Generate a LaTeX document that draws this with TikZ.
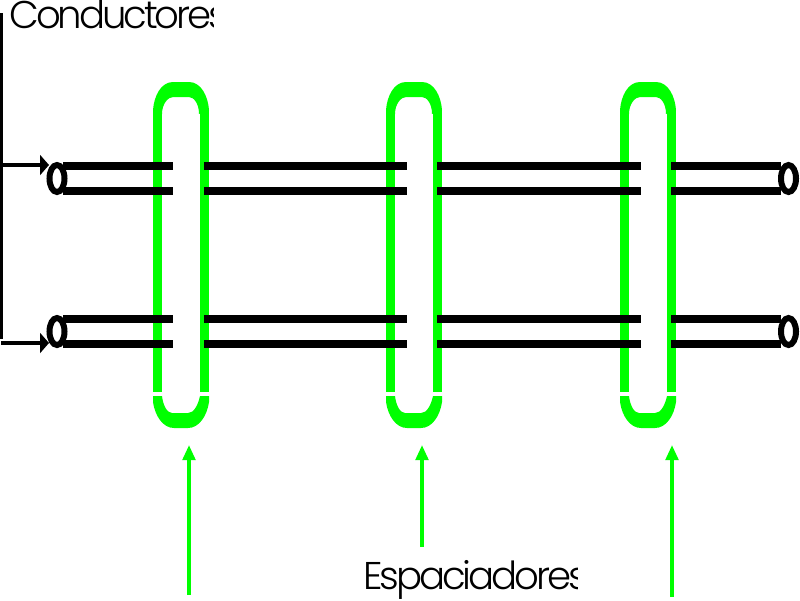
\documentclass[tikz,border=0pt]{standalone}
\usepackage{fontspec}
\setmainfont[LetterSpace=-8]{Poppins Light}
\usetikzlibrary{arrows.meta,shapes.geometric}
\definecolor{espgreen}{RGB}{0,255,0}
\tikzset{
	conductor/.style={black,line width=0.16cm},
	spacerside/.style={espgreen,line width=0.18cm},
	spacercap/.style={fill=espgreen,even odd rule},
	wirering/.style={draw=black,ellipse,line width=0.12cm,inner sep=0pt,minimum width=0.3cm,minimum height=0.54cm},
	blackarrow/.style={black,line width=0.07cm,-{Triangle[length=0.18cm,width=0.4cm]}},
	greenarrow/.style={espgreen,line width=0.07cm,-{Triangle[length=0.3cm,width=0.25cm]}},
	labeltext/.style={black,inner sep=0pt,anchor=base west,font=\fontsize{22}{26}\selectfont}
}
\begin{document}
\begin{tikzpicture}[x=0.02cm,y=-0.02cm]
	\useasboundingbox (0,0) rectangle (800,600);
	% spacers
	\draw[spacerside](157.5,108)--(157.5,392);
	\draw[spacerside](204,108)--(204,392);
	\fill[spacercap](153,110) .. controls (154,96) and (161,82) .. (173,82) -- (189,82) .. controls (201,82) and (208,96) .. (209,110) -- (199,114) .. controls (199,104) and (194,97) .. (189,97) -- (173,97) .. controls (168,97) and (162,104) .. (162,114) -- cycle;
	\fill[spacercap](153,396) -- (153,402) .. controls (155,416) and (163,428) .. (174,428) -- (188,428) .. controls (199,428) and (207,416) .. (209,402) -- (209,396) -- (200,396) .. controls (198,405) and (194,413) .. (188,413) -- (172,413) .. controls (167,413) and (163,405) .. (162,396) -- cycle;
	\draw[spacerside](390.5,108)--(390.5,392);
	\draw[spacerside](437,108)--(437,392);
	\fill[spacercap](386,110) .. controls (387,96) and (394,82) .. (406,82) -- (422,82) .. controls (434,82) and (441,96) .. (442,110) -- (432,114) .. controls (432,104) and (427,97) .. (422,97) -- (406,97) .. controls (401,97) and (395,104) .. (395,114) -- cycle;
	\fill[spacercap](386,396) -- (386,402) .. controls (388,416) and (396,428) .. (407,428) -- (421,428) .. controls (432,428) and (440,416) .. (442,402) -- (442,396) -- (433,396) .. controls (431,405) and (427,413) .. (421,413) -- (405,413) .. controls (400,413) and (396,405) .. (395,396) -- cycle;
	\draw[spacerside](624.5,108)--(624.5,392);
	\draw[spacerside](671,108)--(671,392);
	\fill[spacercap](620,110) .. controls (621,96) and (628,82) .. (640,82) -- (656,82) .. controls (668,82) and (675,96) .. (676,110) -- (666,114) .. controls (666,104) and (661,97) .. (656,97) -- (640,97) .. controls (635,97) and (629,104) .. (629,114) -- cycle;
	\fill[spacercap](620,396) -- (620,402) .. controls (622,416) and (630,428) .. (641,428) -- (655,428) .. controls (666,428) and (674,416) .. (676,402) -- (676,396) -- (667,396) .. controls (665,405) and (661,413) .. (655,413) -- (639,413) .. controls (634,413) and (630,405) .. (629,396) -- cycle;
	% conductors
	\draw[conductor](63,166)--(173,166);
	\draw[conductor](204,166)--(407,166);
	\draw[conductor](437,166)--(641,166);
	\draw[conductor](671,166)--(781,166);
	\draw[conductor](63,191)--(173,191);
	\draw[conductor](204,191)--(407,191);
	\draw[conductor](437,191)--(641,191);
	\draw[conductor](671,191)--(781,191);
	\draw[conductor](63,319)--(173,319);
	\draw[conductor](204,319)--(407,319);
	\draw[conductor](437,319)--(641,319);
	\draw[conductor](671,319)--(781,319);
	\draw[conductor](63,344)--(173,344);
	\draw[conductor](204,344)--(407,344);
	\draw[conductor](437,344)--(641,344);
	\draw[conductor](671,344)--(781,344);
	\node[wirering] (ringA) at (57,178.5) {};
	\node[wirering] (ringB) at (57,331.5) {};
	\node[wirering] (ringC) at (788.5,178.5) {};
	\node[wirering] (ringD) at (788.5,331.5) {};
	% labels, cut off on the right as in the figure
	\begin{scope}
		\clip (0,0) rectangle (213,40);
		\node[labeltext] (conductores) at (9,28) {Conductores};
	\end{scope}
	\begin{scope}
		\clip (350,555) rectangle (577,600);
		\node[labeltext] (espaciadores) at (363,589) {Espaciadores};
	\end{scope}
	% black arrows
	\coordinate (busTop) at (1.5,13);
	\coordinate (busBottom) at (1.5,339);
	\coordinate (tipA) at (49,165);
	\coordinate (tailA) at (2,165);
	\coordinate (tipB) at (49,343);
	\coordinate (tailB) at (1,343);
	\draw[black,line width=0.07cm](busTop)--(busBottom);
	\draw[blackarrow](tailA)--(tipA);
	\draw[blackarrow](tailB)--(tipB);
	% green arrows
	\coordinate (tipC) at (189,445);
	\coordinate (tailC) at (189,595);
	\coordinate (tipD) at (422,445);
	\coordinate (tailD) at (422,547);
	\coordinate (tipE) at (672,445);
	\coordinate (tailE) at (672,597);
	\draw[greenarrow](tailC)--(tipC);
	\draw[greenarrow](tailD)--(tipD);
	\draw[greenarrow](tailE)--(tipE);
\end{tikzpicture}
\end{document}
